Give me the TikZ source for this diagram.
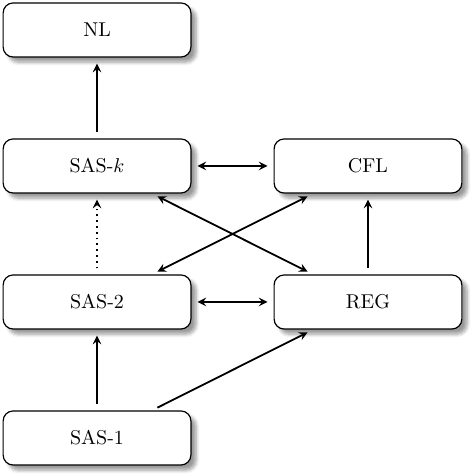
\documentclass[tikz,border=0pt]{standalone}
\usepackage{amsmath}
\usetikzlibrary{shadows.blur}

\begin{document}
\begin{tikzpicture}[>=stealth]
\tikzstyle{box} = [draw, semithick, rounded corners=5pt, fill=white, minimum width=3.3cm, minimum height=0.95cm, blur shadow={shadow blur steps=6, shadow xshift=0.6ex, shadow yshift=-0.6ex}]
\tikzstyle{arr} = [->, line width=0.9pt, shorten >=3pt, shorten <=3pt]

\useasboundingbox (0,0) rectangle (8.33,8.365);

% Colonne
\def\xl{1.705}
\def\xr{6.467}

% Classi di linguaggi
\foreach \name/\lbl/\x/\y in {nl/NL/\xl/7.838, sask/SAS-$k$/\xl/5.448, sastwo/SAS-2/\xl/3.058, sasone/SAS-1/\xl/0.668, cfl/CFL/\xr/5.448, reg/REG/\xr/3.058} {
  \node[box] (\name) at (\x,\y) {\lbl};
}

% Inclusioni
\draw[arr] (sask) -- (nl);
\draw[arr, dotted] (sastwo) -- (sask);
\draw[arr] (sasone) -- (sastwo);
\draw[arr] (reg) -- (cfl);
\draw[arr] (sasone) -- (reg);

% Confronti in entrambi i sensi
\foreach \a/\b in {sask/cfl, sastwo/reg, sask/reg, sastwo/cfl} {
  \draw[arr, <->] (\a) -- (\b);
}

\end{tikzpicture}
\end{document}
